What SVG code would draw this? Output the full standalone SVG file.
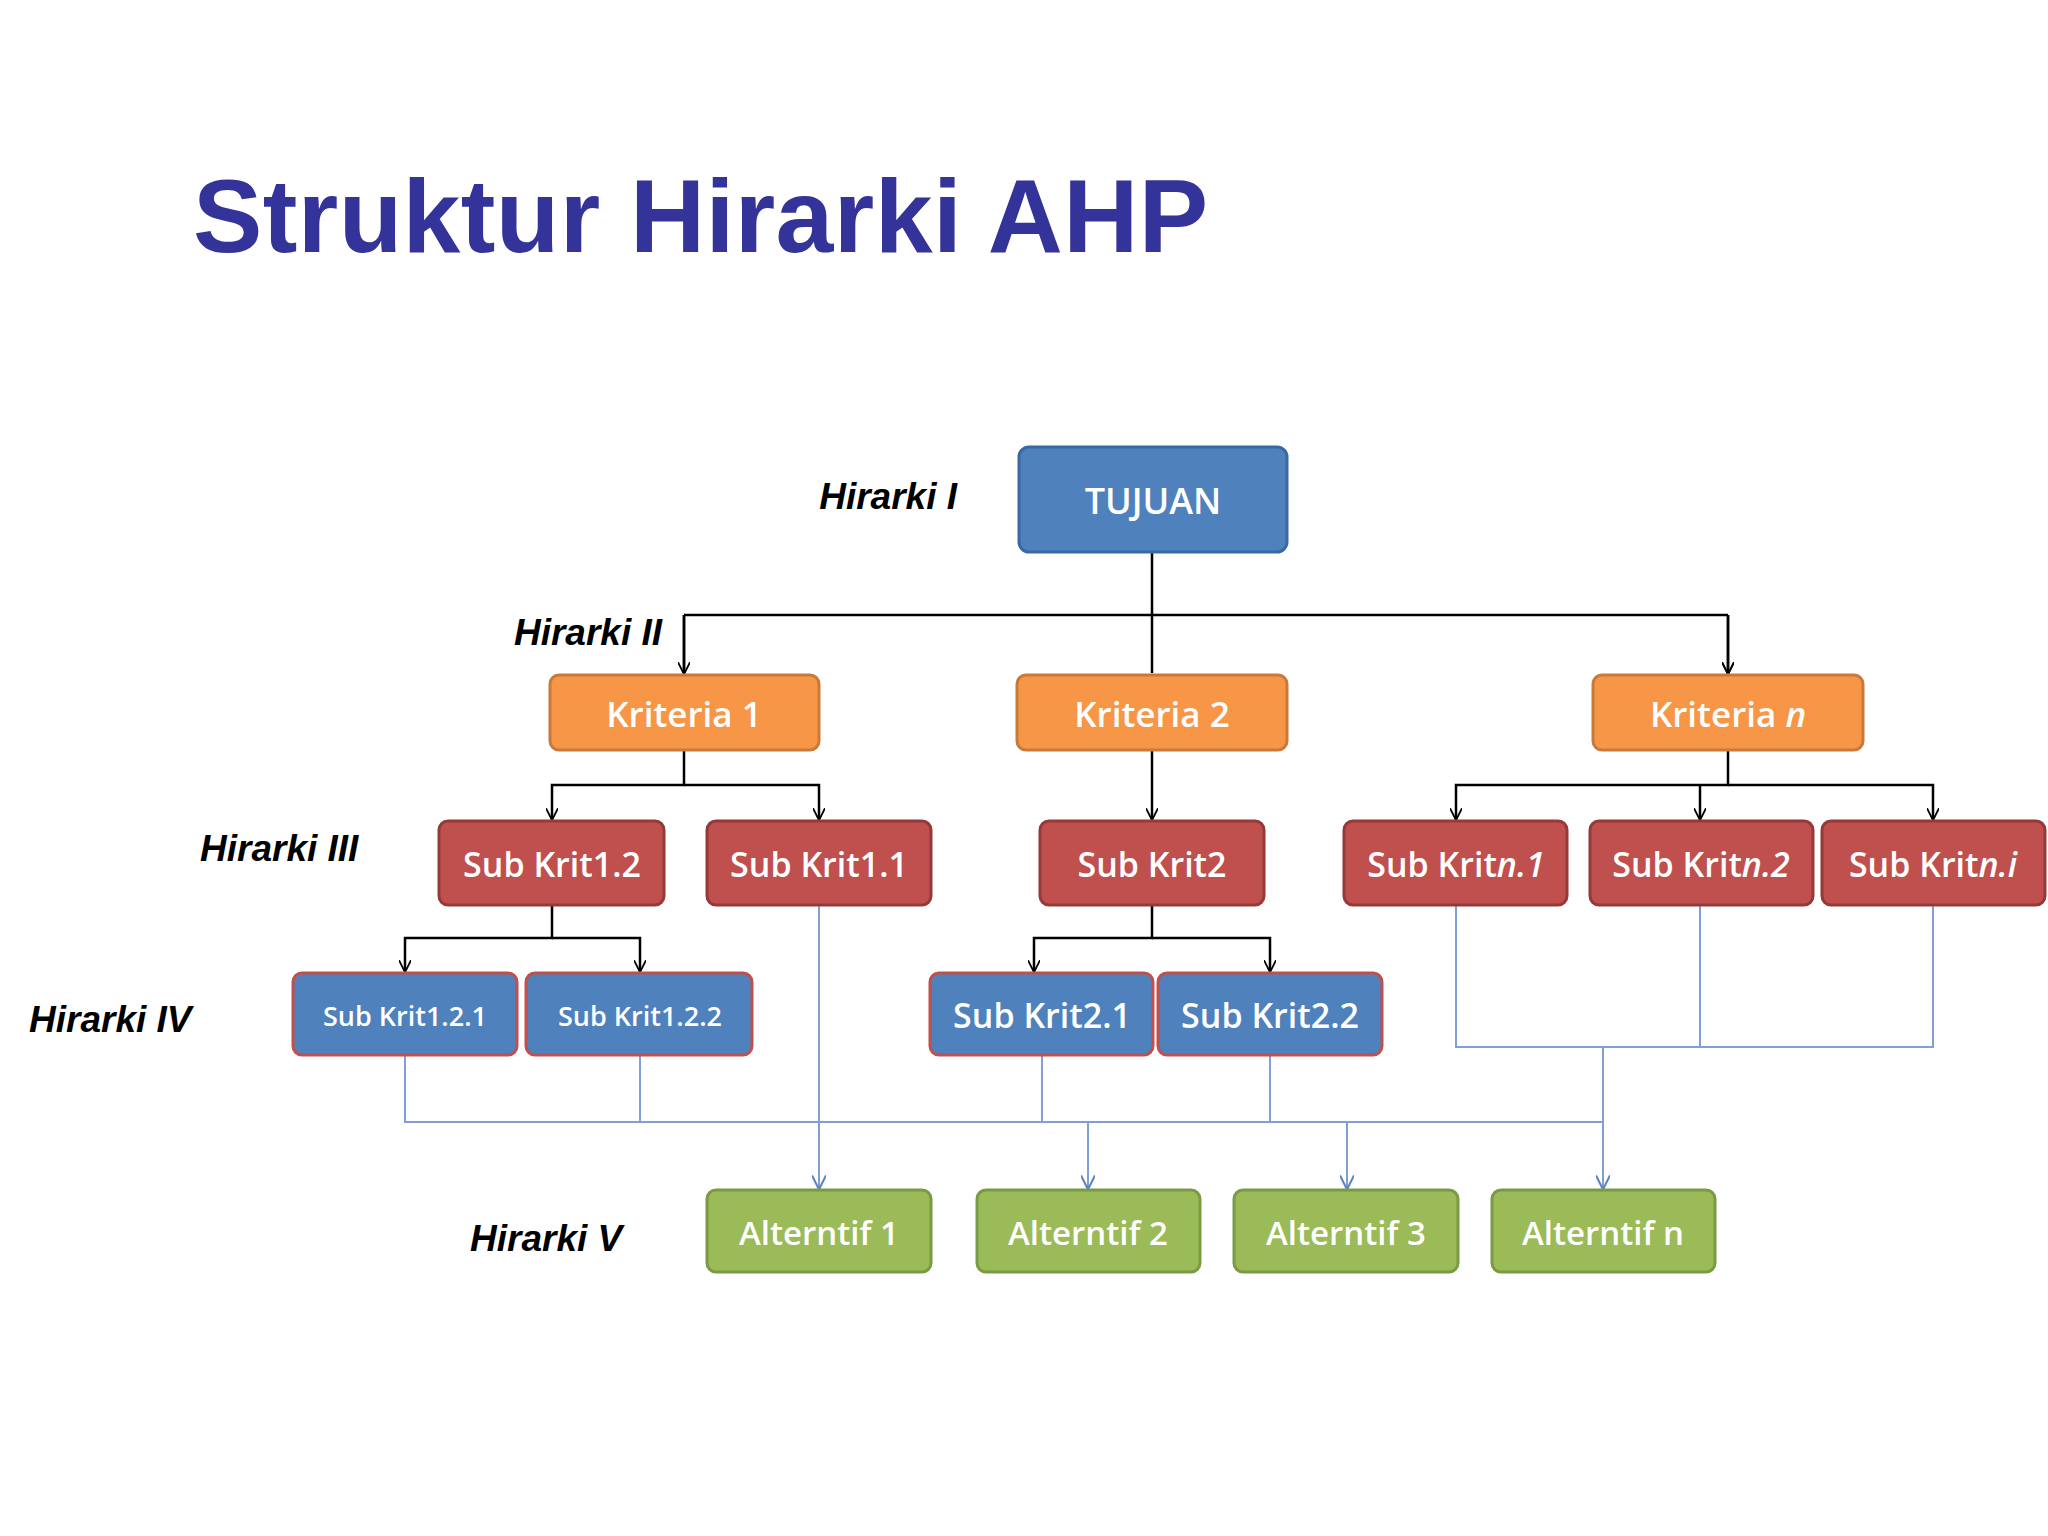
<svg xmlns="http://www.w3.org/2000/svg" width="2048" height="1536" viewBox="0 0 2048 1536">
<defs>
<marker id="ab" viewBox="0 0 10 10" refX="9" refY="5" markerWidth="12" markerHeight="12" markerUnits="userSpaceOnUse" orient="auto"><path d="M0,0 L10,5 L0,10" fill="none" stroke="#000" stroke-width="1.5"/></marker>
<marker id="au" viewBox="0 0 10 10" refX="9" refY="5" markerWidth="14" markerHeight="14" markerUnits="userSpaceOnUse" orient="auto"><path d="M0,0 L10,5 L0,10" fill="none" stroke="#5b82c4" stroke-width="1.5"/></marker>
</defs>
<style>
.t{font-family:"Open Sans","Liberation Sans",sans-serif;font-weight:600;fill:#fff;text-anchor:middle;dominant-baseline:central}
.lb{font-family:"Liberation Sans",Arial,sans-serif;font-weight:bold;font-style:italic;font-size:37px;fill:#000}
.bl{fill:#4F81BD;stroke:#3a68a4;stroke-width:3}
.or{fill:#F79646;stroke:#c87a3c;stroke-width:3}
.rd{fill:#C0504D;stroke:#943a38;stroke-width:3}
.b4{fill:#4F81BD;stroke:#C0504D;stroke-width:3}
.gr{fill:#9BBB59;stroke:#7a9a44;stroke-width:3}
.k{fill:none;stroke:#000;stroke-width:2.5}
.u{fill:none;stroke:#7f9fd6;stroke-width:2}
</style>
<rect width="2048" height="1536" fill="#fff"/>
<text x="193" y="252" font-family="Liberation Sans,Arial,sans-serif" font-weight="bold" font-size="104" fill="#33339a" textLength="1015">Struktur Hirarki  AHP</text>
<g class="lbls">
<text class="lb" x="957" y="509" text-anchor="end">Hirarki I</text>
<text class="lb" x="662" y="645" text-anchor="end">Hirarki II</text>
<text class="lb" x="200" y="861">Hirarki III</text>
<text class="lb" x="29" y="1032">Hirarki IV</text>
<text class="lb" x="470" y="1251">Hirarki V</text>
</g>
<g id="connectors">
<path class="k" d="M1152,552 V615 M684,615 H1728 M684,615 V673 M1152,615 V673 M1728,615 V673" marker-end="url(#ab)"/>
<path class="k" d="M684,615 V673" marker-end="url(#ab)"/>
<path class="k" d="M1728,615 V673" marker-end="url(#ab)"/>
<path class="k" d="M684,750 V785 H552 V819" marker-end="url(#ab)"/>
<path class="k" d="M684,785 H819 V819" marker-end="url(#ab)"/>
<path class="k" d="M1152,750 V819" marker-end="url(#ab)"/>
<path class="k" d="M1728,750 V785 H1456 V819" marker-end="url(#ab)"/>
<path class="k" d="M1700,785 V819" marker-end="url(#ab)"/>
<path class="k" d="M1728,785 H1933 V819" marker-end="url(#ab)"/>
<path class="k" d="M552,905 V938 H405 V971" marker-end="url(#ab)"/>
<path class="k" d="M552,938 H640 V971" marker-end="url(#ab)"/>
<path class="k" d="M1152,905 V938 H1034 V971" marker-end="url(#ab)"/>
<path class="k" d="M1152,938 H1270 V971" marker-end="url(#ab)"/>
<path class="u" d="M819,905 V1188" marker-end="url(#au)"/>
<path class="u" d="M405,1055 V1122 H1603 M640,1055 V1122 M1042,1055 V1122 M1270,1055 V1122"/>
<path class="u" d="M1088,1122 V1188" marker-end="url(#au)"/>
<path class="u" d="M1347,1122 V1188" marker-end="url(#au)"/>
<path class="u" d="M1456,905 V1047 H1933 V905 M1700,905 V1047"/>
<path class="u" d="M1603,1047 V1188" marker-end="url(#au)"/>
</g>
<g id="tujuan"><rect class="bl" x="1019" y="447" width="268" height="105" rx="10"/><text class="t" x="1153" y="500" font-size="36">TUJUAN</text></g>
<g id="k1"><rect class="or" x="550" y="675" width="269" height="75" rx="9"/><text class="t" x="684" y="713" font-size="35">Kriteria 1</text></g>
<g id="k2"><rect class="or" x="1017" y="675" width="270" height="75" rx="9"/><text class="t" x="1152" y="713" font-size="35">Kriteria 2</text></g>
<g id="kn"><rect class="or" x="1593" y="675" width="270" height="75" rx="9"/><text class="t" x="1728" y="713" font-size="35">Kriteria <tspan font-style="italic">n</tspan></text></g>
<g id="s12"><rect class="rd" x="439" y="821" width="225" height="84" rx="9"/><text class="t" x="552" y="864" font-size="34">Sub Krit1.2</text></g>
<g id="s11"><rect class="rd" x="707" y="821" width="224" height="84" rx="9"/><text class="t" x="819" y="864" font-size="34">Sub Krit1.1</text></g>
<g id="s2"><rect class="rd" x="1040" y="821" width="224" height="84" rx="9"/><text class="t" x="1152" y="864" font-size="34">Sub Krit2</text></g>
<g id="sn1"><rect class="rd" x="1344" y="821" width="223" height="84" rx="9"/><text class="t" x="1456" y="864" font-size="34">Sub Krit<tspan font-style="italic">n.1</tspan></text></g>
<g id="sn2"><rect class="rd" x="1590" y="821" width="223" height="84" rx="9"/><text class="t" x="1701" y="864" font-size="34">Sub Krit<tspan font-style="italic">n.2</tspan></text></g>
<g id="sni"><rect class="rd" x="1822" y="821" width="223" height="84" rx="9"/><text class="t" x="1933" y="864" font-size="34">Sub Krit<tspan font-style="italic">n.i</tspan></text></g>
<g id="s121"><rect class="b4" x="293" y="973" width="224" height="82" rx="9"/><text class="t" x="405" y="1015" font-size="27">Sub Krit1.2.1</text></g>
<g id="s122"><rect class="b4" x="526" y="973" width="226" height="82" rx="9"/><text class="t" x="640" y="1015" font-size="27">Sub Krit1.2.2</text></g>
<g id="s21"><rect class="b4" x="930" y="973" width="223" height="82" rx="9"/><text class="t" x="1042" y="1015" font-size="34">Sub Krit2.1</text></g>
<g id="s22"><rect class="b4" x="1158" y="973" width="224" height="82" rx="9"/><text class="t" x="1270" y="1015" font-size="34">Sub Krit2.2</text></g>
<g id="a1"><rect class="gr" x="707" y="1190" width="224" height="82" rx="9"/><text class="t" x="819" y="1232" font-size="33">Alterntif 1</text></g>
<g id="a2"><rect class="gr" x="977" y="1190" width="223" height="82" rx="9"/><text class="t" x="1088" y="1232" font-size="33">Alterntif 2</text></g>
<g id="a3"><rect class="gr" x="1234" y="1190" width="224" height="82" rx="9"/><text class="t" x="1346" y="1232" font-size="33">Alterntif 3</text></g>
<g id="an"><rect class="gr" x="1492" y="1190" width="223" height="82" rx="9"/><text class="t" x="1603" y="1232" font-size="33">Alterntif n</text></g>
</svg>
